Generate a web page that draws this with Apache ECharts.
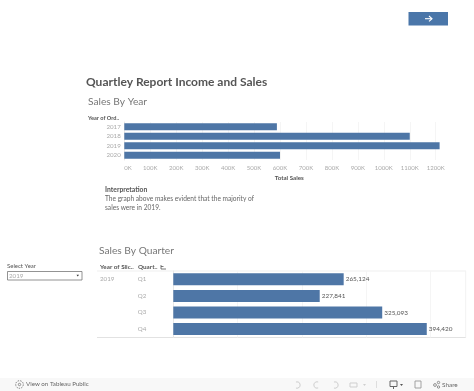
<!DOCTYPE html>
<html><head><meta charset="utf-8">
<style>html,body{margin:0;padding:0;background:#fff}#c{width:474px;height:391px;filter:blur(0.4px)}</style>
<script src="https://cdn.jsdelivr.net/npm/echarts@6/dist/echarts.min.js"></script>
</head><body><div id="c"></div>
<script>
const years = ['2017','2018','2019','2020'];
const yearSales = [588000,1100000,1215000,600000];
const quarters = ['Q1','Q2','Q3','Q4'];
const quarterSales = [265124,227841,325093,394420];
const selectedYear = '2019';
const F = 'Lato,"Open Sans",sans-serif';
const BAR = '#4e76a6', GREY='#aaa', DARK='#555';
const chart = echarts.init(document.getElementById('c'),null,{renderer:'canvas'});
const t=(x,y,text,size,fill,weight,align)=>({type:'text',x,y,silent:true,style:{text,fontFamily:F,fontSize:size,fill,fontWeight:weight||'normal',align:align||'left',verticalAlign:'middle'}});
const r=(x,y,w,h,fill,stroke,lw)=>({type:'rect',silent:true,shape:{x,y,width:w,height:h},style:{fill:fill||'none',stroke:stroke||'none',lineWidth:lw||1}});
const l=(x1,y1,x2,y2,c,w)=>({type:'line',silent:true,shape:{x1,y1,x2,y2},style:{stroke:c,lineWidth:w||1}});
const ic='#cfcfcf';
const arc=(cx,cy,a,b)=>({type:'arc',silent:true,shape:{cx,cy,r:3.2,startAngle:a,endAngle:b,clockwise:true},style:{stroke:ic,fill:'none',lineWidth:1}});
chart.setOption({
  animation:false,
  backgroundColor:'#fff',
  grid:[
    {left:124.3,top:122,width:321.8,height:38},
    {left:173.3,top:271,width:292.4,height:66.4}
  ],
  xAxis:[
    {gridIndex:0,type:'value',min:0,max:1240000,interval:100000,
     name:'Total Sales',nameLocation:'middle',nameGap:15,
     nameTextStyle:{fontFamily:F,fontSize:6.2,fontWeight:'bold',color:DARK,padding:[0,0,0,8]},
     axisLine:{show:false},axisTick:{show:false},
     axisLabel:{fontFamily:F,fontSize:6,color:GREY,margin:5,showMaxLabel:false,alignMinLabel:'left',
       formatter:v=>(v/1000)+'K'},
     splitLine:{show:true,showMaxLine:false,lineStyle:{color:'#f5f5f5',width:1}}},
    {gridIndex:1,type:'value',min:0,max:455000,interval:100000,
     axisLine:{show:false},axisTick:{show:false},axisLabel:{show:false},
     splitLine:{show:true,showMaxLine:false,lineStyle:{color:'#f5f5f5',width:1}}}
  ],
  yAxis:[
    {gridIndex:0,type:'category',inverse:true,data:years,
     axisLine:{show:true,lineStyle:{color:'#e8e8e8'}},axisTick:{show:false},
     axisLabel:{fontFamily:F,fontSize:6.2,color:GREY,margin:3.5}},
    {gridIndex:1,type:'category',inverse:true,data:quarters,
     axisLine:{show:true,lineStyle:{color:'#e8e8e8'}},axisTick:{show:false},
     axisLabel:{fontFamily:F,fontSize:6.2,color:GREY,align:'left',margin:35.5}}
  ],
  series:[
    {type:'bar',xAxisIndex:0,yAxisIndex:0,data:yearSales,barWidth:7,itemStyle:{color:BAR}},
    {type:'bar',xAxisIndex:1,yAxisIndex:1,data:quarterSales,barWidth:12,itemStyle:{color:BAR},
     label:{show:true,position:'right',distance:2,fontFamily:F,fontSize:6.4,color:DARK,formatter:p=>p.value.toLocaleString('en-US')}}
  ],
  graphic:[
    r(408.5,12,39.5,13.5,'#4a76a9'),
    l(425,18.7,432,18.7,'#fff',1.1),
    {type:'polyline',silent:true,shape:{points:[[429,16],[432,18.7],[429,21.4]]},style:{stroke:'#fff',fill:'none',lineWidth:1.1}},
    t(86,82,'Quartley Report Income and Sales',12,'#555','bold'),
    t(88,102,'Sales By Year',10.2,'#777'),
    t(88,118,'Year of Ord..',5.6,DARK,'bold'),
    t(105,189.5,'Interpretation',6.8,DARK,'bold'),
    t(105,198.5,'The graph above makes evident that the majority of',6.6,'#666'),
    t(105,207.5,'sales were in 2019.',6.6,'#666'),
    t(99,251,'Sales By Quarter',10.2,'#777'),
    t(7,266.5,'Select Year',6,DARK),
    r(7.5,271.5,74.5,8.5,'#fff','#777',0.8),
    t(9,275.8,selectedYear,6.2,GREY),
    {type:'polygon',silent:true,shape:{points:[[76.5,274.8],[79,274.8],[77.75,276.6]]},style:{fill:'#333'}},
    t(100,267,'Year of Slic..',6.3,DARK,'bold'),
    t(138,267,'Quart..',6.3,DARK,'bold'),
    l(161,265,161,269,'#555',0.8),l(161,269,166,269,'#555',0.8),l(161,266.5,163.5,266.5,'#555',0.8),
    t(100,279.5,selectedYear,6.2,GREY),
    l(97,271,466,271,'#efefef'),
    l(97,337.5,466,337.5,'#e2e2e2'),
    l(465.7,271,465.7,337.5,'#f2f2f2'),
    r(0,378,474,13,'#f8f8f8'),
    {type:'circle',silent:true,shape:{cx:19.5,cy:384.5,r:3.8},style:{fill:'none',stroke:'#777',lineWidth:1,lineDash:[1.4,1.2]}},
    {type:'circle',silent:true,shape:{cx:19.5,cy:384.5,r:1.2},style:{fill:'none',stroke:'#777',lineWidth:0.8}},
    t(26,384.5,'View on Tableau Public',6.2,'#666'),
    arc(297,385,-1.9,1.9),
    arc(317,385,1.2,-1.2),
    arc(335,385,-1.9,1.9),
    r(350,383,7,4,'none',ic,1),
    {type:'polygon',silent:true,shape:{points:[[363,384],[366,384],[364.5,386]]},style:{fill:ic}},
    l(376.5,381,376.5,388,'#dedede'),
    r(390,381,7,5.5,'none','#666',1),l(393.5,386.5,393.5,389,'#666',1),
    {type:'polygon',silent:true,shape:{points:[[400,384],[403,384],[401.5,386]]},style:{fill:'#555'}},
    r(415,381,6,7,'none','#999',0.9),
    {type:'circle',silent:true,shape:{cx:435,cy:385,r:1.4},style:{fill:'none',stroke:'#777',lineWidth:0.8}},
    {type:'circle',silent:true,shape:{cx:438.5,cy:382.5,r:1.2},style:{fill:'none',stroke:'#777',lineWidth:0.8}},
    {type:'circle',silent:true,shape:{cx:438.5,cy:387,r:1.2},style:{fill:'none',stroke:'#777',lineWidth:0.8}},
    t(442,384.5,'Share',6.4,'#666')
  ]
});
</script></body></html>
